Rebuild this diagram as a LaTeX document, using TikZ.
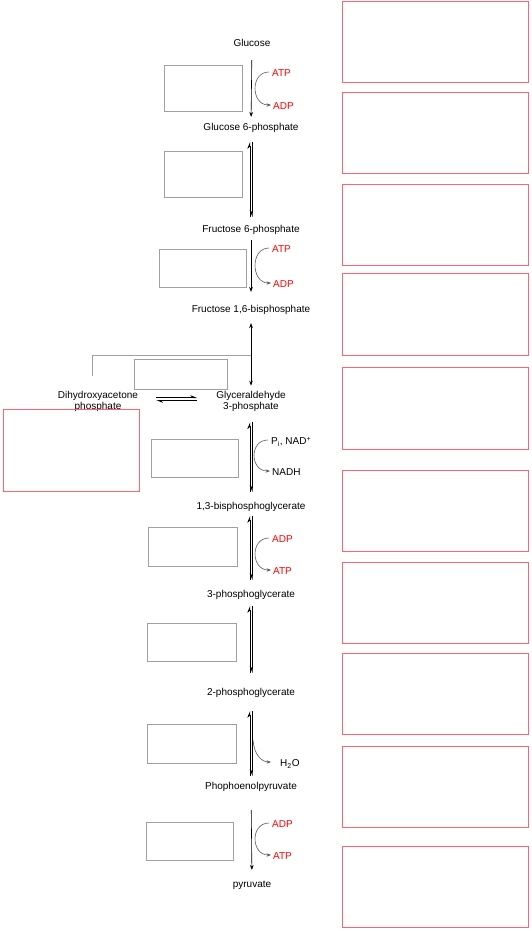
\documentclass[tikz,border=0pt]{standalone}
\usepackage{fontspec}
\setmainfont{Liberation Sans}
\usepackage{tikz}
\usepackage{xcolor}
\usetikzlibrary{arrows.meta}

\definecolor{boxgray}{RGB}{160,160,160}
\definecolor{boxred}{RGB}{255,100,115}
\definecolor{curvegray}{RGB}{90,90,90}

\tikzset{
  metab/.style={font=\fontsize{10}{11}\selectfont, inner sep=2pt, text height=9.5pt, text depth=0.2pt},
  metabtwo/.style={font=\fontsize{10}{11}\selectfont, inner sep=2pt, align=center},
  cofac/.style={font=\fontsize{10}{11}\selectfont, inner sep=1pt, anchor=west, text height=9.5pt, text depth=0.2pt},
  energy/.style={cofac, text=red},
  emptybox/.style={draw=boxgray, line width=0.9pt},
  answerbox/.style={draw=boxred, line width=0.9pt},
  fwd/.style={-{Stealth[length=5pt,width=3.6pt]}, line width=0.6pt},
  twoway/.style={{Stealth[length=5pt,width=3.6pt]}-{Stealth[length=5pt,width=3.6pt]}, line width=0.6pt},
  harpl/.style={-{Stealth[length=6pt,width=5pt,left]}, line width=0.6pt},
  harpr/.style={-{Stealth[length=6pt,width=5pt,right]}, line width=0.6pt},
  cofarrow/.style={-{Stealth[length=4.5pt,width=3.4pt]}, draw=curvegray, line width=0.6pt},
}

\begin{document}
\begin{tikzpicture}[x=1pt,y=-1pt]
  \useasboundingbox (0,0) rectangle (531,931);

  % Metabolites
  \node[metab] (glc) at (252,42) {Glucose};
  \node[metab] (g6p) at (251,126) {Glucose 6-phosphate};
  \node[metab] (f6p) at (251,228) {Fructose 6-phosphate};
  \node[metab] (fbp) at (251,308) {Fructose 1,6-bisphosphate};
  \node[metabtwo] (dhap) at (98,401) {Dihydroxyacetone\\phosphate};
  \node[metabtwo] (gap) at (251,401) {Glyceraldehyde\\3-phosphate};
  \node[metab] (bpg) at (251,505) {1,3-bisphosphoglycerate};
  \node[metab] (pg3) at (251,593) {3-phosphoglycerate};
  \node[metab] (pg2) at (251,691) {2-phosphoglycerate};
  \node[metab] (pep) at (251,785) {Phophoenolpyruvate};
  \node[metab] (pyr) at (252,883) {pyruvate};

  % Cofactors
  \node[energy] (atp1) at (271,72) {ATP};
  \node[energy] (adp1) at (272,105) {ADP};
  \node[energy] (atp2) at (271,248) {ATP};
  \node[energy] (adp2) at (272,283) {ADP};
  \node[cofac] (pinad) at (270,440) {P\textsubscript{i}, NAD\textsuperscript{+}};
  \node[cofac] (nadh) at (271,471) {NADH};
  \node[energy] (adp3) at (271,538) {ADP};
  \node[energy] (atp3) at (272,570) {ATP};
  \node[cofac] (h2o) at (279,762) {H\textsubscript{2}O};
  \node[energy] (adp4) at (271,823) {ADP};
  \node[energy] (atp4) at (272,855) {ATP};

  % Answer boxes
  \draw[answerbox] (3,409) rectangle (139,491);
  \foreach \ytop/\ybot in {1/82, 92/173, 184/265, 273/355, 367/449, 470/551, 562/643, 653/734, 746/827, 846/927}
    \draw[answerbox] (342,\ytop) rectangle (528,\ybot);

  % Empty boxes beside the steps
  \draw[emptybox] (164,65) rectangle (242,111);
  \draw[emptybox] (164,151) rectangle (242,197);
  \draw[emptybox] (159,249) rectangle (246,287);
  \draw[emptybox] (134,359) rectangle (227,389);
  \draw[emptybox] (151,439) rectangle (238,477);
  \draw[emptybox] (148,527) rectangle (237,566);
  \draw[emptybox] (147,623) rectangle (236,661);
  \draw[emptybox] (147,724) rectangle (236,763);
  \draw[emptybox] (146,822) rectangle (233,860);

  % Bracket to DHAP
  \coordinate (brk) at (252,355);
  \draw[emptybox] ([xshift=-5.5pt,yshift=13pt]dhap.north) |- (brk);

  % Draw edges
  \draw[fwd, shorten <=11pt, shorten >=2pt] (glc) -- (g6p);
  \draw[harpl, shorten <=4pt, shorten >=9pt] ([xshift=-1.2pt]f6p.north) -- ([xshift=-1.2pt]g6p.south); % up
  \draw[harpr, shorten <=9pt, shorten >=4pt] ([xshift=1.2pt]g6p.south) -- ([xshift=1.2pt]f6p.north); % down
  \draw[fwd, shorten <=5pt, shorten >=9pt] (f6p) -- (fbp);
  \draw[twoway, shorten <=8pt, shorten >=3pt] (fbp) -- (gap);
  \draw[harpl, shorten <=16pt, shorten >=17pt] ([yshift=3.3pt]dhap.east) -- ([yshift=3.3pt]gap.west); % right
  \draw[harpl, shorten <=17pt, shorten >=16pt] ([yshift=0.7pt]gap.west) -- ([yshift=0.7pt]dhap.east); % left
  \draw[harpl, shorten <=6pt, shorten >=9pt] ([xshift=-1.2pt]bpg.north) -- ([xshift=-1.2pt]gap.south); % up
  \draw[harpr, shorten <=9pt, shorten >=6pt] ([xshift=1.2pt]gap.south) -- ([xshift=1.2pt]bpg.north); % down
  \draw[harpl, shorten <=6pt, shorten >=4pt] ([xshift=-1.2pt]pg3.north) -- ([xshift=-1.2pt]bpg.south); % up
  \draw[harpr, shorten <=4pt, shorten >=6pt] ([xshift=1.2pt]bpg.south) -- ([xshift=1.2pt]pg3.north); % down
  \draw[harpl, shorten <=11pt, shorten >=6pt] ([xshift=-1.2pt]pg2.north) -- ([xshift=-1.2pt]pg3.south); % up
  \draw[harpr, shorten <=6pt, shorten >=11pt] ([xshift=1.2pt]pg3.south) -- ([xshift=1.2pt]pg2.north); % down
  \draw[harpl, shorten <=2pt, shorten >=13pt] ([xshift=-1.2pt]pep.north) -- ([xshift=-1.2pt]pg2.south); % up
  \draw[harpr, shorten <=13pt, shorten >=2pt] ([xshift=1.2pt]pg2.south) -- ([xshift=1.2pt]pep.north); % down
  \draw[fwd, shorten <=18pt, shorten >=6pt] (pep) -- (pyr);

  % Side curves
  \draw[cofarrow, shorten <=2pt, shorten >=1pt] (atp1.west) .. controls +(-21,0) and +(-21,0) .. (adp1.west);
  \draw[cofarrow, shorten <=2pt, shorten >=1pt] (atp2.west) .. controls +(-21,0) and +(-21,0) .. (adp2.west);
  \draw[cofarrow, shorten <=2pt, shorten >=1pt] (pinad.west) .. controls +(-21,0) and +(-21,0) .. (nadh.west);
  \draw[cofarrow, shorten <=2pt, shorten >=1pt] (adp3.west) .. controls +(-21,0) and +(-21,0) .. (atp3.west);
  \coordinate (h2ofrom) at (253,740);
  \draw[cofarrow, shorten >=8pt] (h2ofrom) .. controls (254,755) and (262,762) .. (h2o.west);
  \draw[cofarrow, shorten <=2pt, shorten >=1pt] (adp4.west) .. controls +(-21,0) and +(-21,0) .. (atp4.west);
\end{tikzpicture}
\end{document}
